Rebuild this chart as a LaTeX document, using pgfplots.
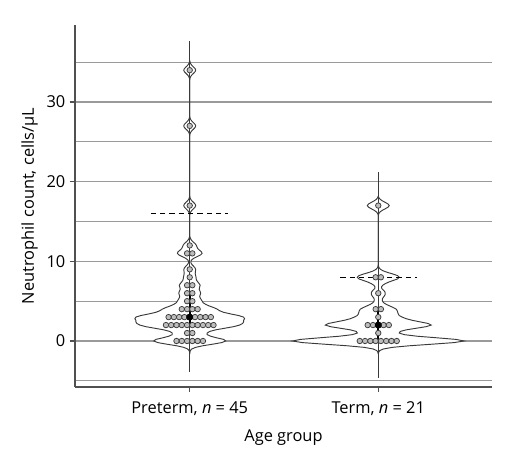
\documentclass[border=0pt]{standalone}
\usepackage{fontspec}
\setmainfont{Open Sans}
\usepackage{pgfplots}
\pgfplotsset{compat=1.18}
\usepackage{pgfplotstable}

\definecolor{axgray}{HTML}{505050}
\definecolor{gridgray}{HTML}{9A9A9A}
\definecolor{dotfill}{HTML}{BDBDBD}
\definecolor{dotdraw}{HTML}{3A3A3A}
\definecolor{vio}{HTML}{3A3A3A}

\pgfplotstableread{
v w
-1.6 0
-1.4 0.2
-1.2 0.6
-1.0 2.1
-0.8 5.9
-0.6 13
-0.4 23
-0.2 32
0.0 36
0.2 34
0.4 27
0.6 21
0.8 17.5
1.0 17.5
1.2 20
1.4 26
1.6 35
1.8 44
2.0 50
2.2 53
2.4 54
2.6 54
2.8 55
3.0 54
3.2 49
3.4 41
3.6 34
3.8 30
4.0 27.5
4.2 24
4.4 19.5
4.6 16
4.8 13.5
5.0 12.5
5.2 11.5
5.4 10.5
5.6 10
5.8 10.5
6.0 11
6.2 10.5
6.5 9.5
6.8 10
7.0 10.5
7.2 9.5
7.4 8.2
7.6 7
7.8 6.5
8.0 6.3
8.2 6
8.5 5.5
8.8 5.8
9.0 5.9
9.2 5.2
9.4 3.8
9.6 2.2
9.8 1.3
10.0 1.1
10.2 2.1
10.4 4.3
10.6 7.6
10.8 10.8
11.0 12.4
11.2 11.7
11.4 9.8
11.6 8.1
11.8 7.3
12.0 6.7
12.2 5.6
12.4 3.8
12.6 2.2
12.8 1.0
13.0 0.35
13.2 0
15.8 0
16.0 0.35
16.2 0.98
16.4 2.16
16.6 3.8
16.8 5.36
17.0 6
17.2 5.36
17.4 3.8
17.6 2.16
17.8 0.98
18.0 0.35
18.2 0
25.8 0
26.0 0.35
26.2 0.98
26.4 2.16
26.6 3.8
26.8 5.36
27.0 6
27.2 5.36
27.4 3.8
27.6 2.16
27.8 0.98
28.0 0.35
28.2 0
32.8 0
33.0 0.35
33.2 0.98
33.4 2.16
33.6 3.8
33.8 5.36
34.0 6
34.2 5.36
34.4 3.8
34.6 2.16
34.8 0.98
35.0 0.35
35.2 0
}\pre

\pgfplotstableread{
v w
-1.6 0
-1.4 0.4
-1.2 1.5
-1.0 5.2
-0.8 14
-0.6 31
-0.4 54
-0.2 76
0.0 86
0.2 78
0.4 59
0.6 39
0.8 26
1.0 21
1.2 22
1.4 28
1.6 38
1.8 48
2.0 53
2.2 50
2.4 42
2.6 34
2.8 28
3.0 24
3.2 21
3.4 20
3.6 19.5
3.8 19
4.0 18
4.2 15
4.4 11.5
4.6 8
4.8 5.5
5.0 4.2
5.2 4
5.4 4.5
5.6 5.8
5.8 6.8
6.0 7
6.2 6.5
6.4 5
6.6 3.5
6.8 3.3
7.0 4.5
7.2 7
7.4 10.5
7.6 15
7.8 19.5
8.0 21
8.2 19.5
8.4 15
8.6 9.5
8.8 5
9.0 2.2
9.2 0.8
9.4 0.2
9.6 0
15.8 0
16.0 0.6
16.2 1.8
16.4 4
16.6 7
16.8 9.8
17.0 11
17.2 9.8
17.4 7
17.6 4
17.8 1.8
18.0 0.6
18.2 0
}\term

\begin{document}
\begin{tikzpicture}
\begin{axis}[
  scale only axis, width=312.75pt, height=271.5pt,
  xmin=75, xmax=493, ymin=-5.774, ymax=39.67,
  axis x line*=bottom, axis y line*=left,
  axis line style={axgray, line width=1pt, -},
  xtick={190,379},
  xticklabels={{Preterm, \textit{n} = 45},{Term, \textit{n} = 21}},
  ytick={0,10,20,30}, minor ytick={-5,5,15,25,35},
  ymajorgrids, yminorgrids,
  major grid style={gridgray, line width=0.8pt},
  minor grid style={gridgray, line width=0.8pt},
  tick align=outside, major tick length=3.75pt, minor tick length=0pt,
  tick style={axgray, line width=0.8pt},
  font=\fontsize{12.3}{15}\selectfont,
  /pgf/number format/assume math mode=true,
  xticklabel style={yshift=-3.5pt},
  xlabel={Age group}, ylabel={Neutrophil count, cells/µL},
  xlabel style={at={(axis description cs:0.5,-0.1492)}, anchor=base},
  ylabel style={at={(axis description cs:-0.1087,0.5)}, anchor=center},
]
% violins (right and left halves)
\addplot[draw=vio, line width=0.7pt, fill=white] table[x expr=190+\thisrow{w}, y=v]{\pre};
\addplot[draw=vio, line width=0.7pt, fill=white] table[x expr=190-\thisrow{w}, y=v]{\pre};
\addplot[draw=vio, line width=0.7pt, fill=white] table[x expr=379+\thisrow{w}, y=v]{\term};
\addplot[draw=vio, line width=0.7pt, fill=white] table[x expr=379-\thisrow{w}, y=v]{\term};
% whiskers
\addplot[vio, line width=0.7pt] coordinates {(190,-3.9) (190,37.7)};
\addplot[vio, line width=0.7pt] coordinates {(379,-4.6) (379,21.25)};
% dashed reference lines
\addplot[black, line width=1pt, dash pattern=on 4pt off 3pt] coordinates {(151,16) (228,16)};
\addplot[black, line width=1pt, dash pattern=on 4pt off 3pt] coordinates {(341,8) (418,8)};
% dots
\addplot[only marks, mark=*, mark size=2.05pt, mark options={fill=dotfill, draw=dotdraw, line width=0.55pt}] coordinates {
(190,34) (190,27) (190,17) (190,12) (187.35,11) (192.65,11) (190,9) (190,8)
(187.35,7) (192.65,7) (187.35,6) (192.65,6) (187.35,5) (192.65,5)
(182.05,4) (187.35,4) (192.65,4) (197.95,4)
(168.8,3) (174.1,3) (179.4,3) (184.7,3) (190,3) (195.3,3) (200.6,3) (205.9,3) (211.2,3)
(166.15,2) (171.45,2) (176.75,2) (182.05,2) (187.35,2) (192.65,2) (197.95,2) (203.25,2) (208.55,2) (213.85,2)
(187.35,1) (192.65,1)
(176.75,0) (182.05,0) (187.35,0) (192.65,0) (197.95,0) (203.25,0)
};
\addplot[only marks, mark=*, mark size=2.05pt, mark options={fill=dotfill, draw=dotdraw, line width=0.55pt}] coordinates {
(379,17) (376.35,8) (381.65,8) (379,6) (376.35,4) (381.65,4) (379,3)
(368.4,2) (373.7,2) (379,2) (384.3,2) (389.6,2) (379,1)
(360.45,0) (365.75,0) (371.05,0) (376.35,0) (381.65,0) (386.95,0) (392.25,0) (397.55,0)
};
% medians and interquartile bars
\addplot[black, line width=1.4pt] coordinates {(190,2) (190,6)};
\addplot[black, line width=1.1pt] coordinates {(185.5,6) (194.5,6)};
\addplot[black, line width=1.1pt] coordinates {(185.5,2) (194.5,2)};
\addplot[black, line width=1.4pt] coordinates {(379,0) (379,4)};
\addplot[black, line width=1.1pt] coordinates {(374.5,4) (383.5,4)};
\addplot[black, line width=1.1pt] coordinates {(374.5,0) (383.5,0)};
\addplot[only marks, mark=*, mark size=2.4pt, black] coordinates {(190,3) (379,2)};
\end{axis}
\pgfresetboundingbox
\useasboundingbox (-56.25pt,-62.25pt) rectangle (333.75pt,290.25pt);
\end{tikzpicture}
\end{document}
